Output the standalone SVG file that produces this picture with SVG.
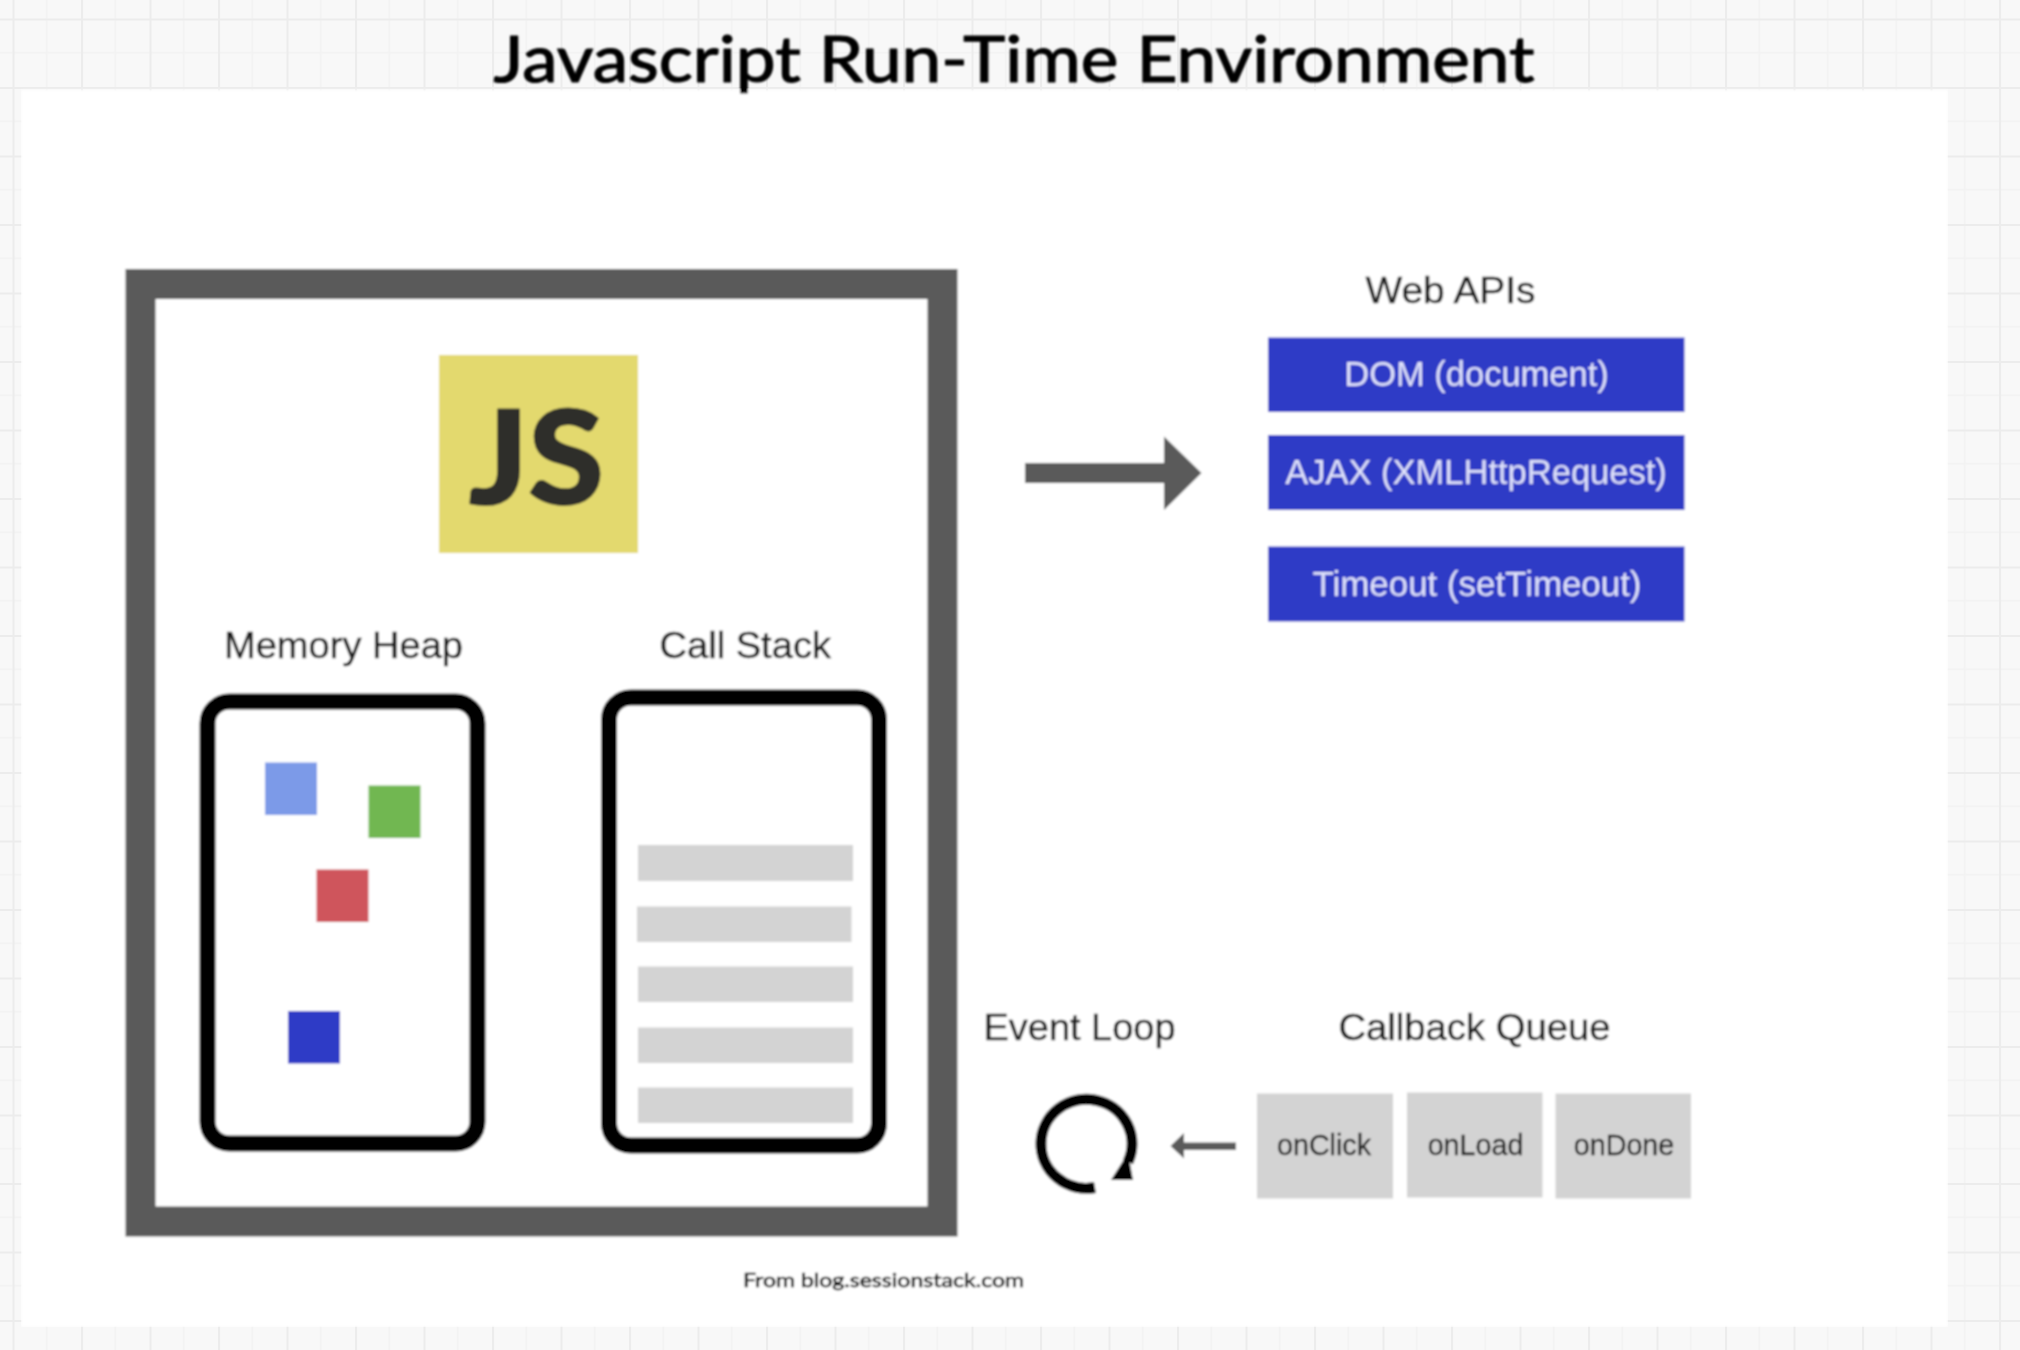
<svg xmlns="http://www.w3.org/2000/svg" width="2020" height="1350" viewBox="0 0 2020 1350">
<style>
.lbl{font-family:"Liberation Sans",Arial,sans-serif;fill:#1a1a1a;stroke:#1a1a1a;stroke-width:.4px;font-size:37px}
.api{fill:#2f3bc6}
.apit{font-family:"Liberation Sans",Arial,sans-serif;fill:#dfe2fb;font-size:34.5px;text-anchor:middle}
.box{fill:#fff;stroke:#000;stroke-width:16}
.bar{fill:#d3d3d3}
.q{fill:#d3d3d3}
.qt{font-family:"Liberation Sans",Arial,sans-serif;fill:#1a1a1a;stroke:#1a1a1a;stroke-width:.3px;font-size:28.7px;text-anchor:middle}
.rd{font-family:"Lato","Noto Sans",sans-serif;stroke-linejoin:round;stroke-linecap:round}
.cn{fill:#5a5a5a}
</style>
<defs>
<pattern id="grid" x="12.5" y="18.5" width="68.5" height="68.5" patternUnits="userSpaceOnUse">
<rect width="68.5" height="68.5" fill="#f8f8f8"/>
<path d="M34.25 0V68.5M0 34.25H68.5" stroke="#f2f2f2" stroke-width="1.5" fill="none"/>
<path d="M0.75 0V68.5M0 0.75H68.5" stroke="#ececec" stroke-width="2.5" fill="none"/>
</pattern>
<filter id="soft" x="0" y="0" width="100%" height="100%"><feGaussianBlur stdDeviation="0.8"/></filter>
</defs>
<rect width="2020" height="1350" fill="url(#grid)"/>
<g filter="url(#soft)">
<rect id="panel" x="21" y="90" width="1927" height="1237" fill="#fff"/>
<g id="title"><text class="rd" x="493.500" y="82" font-size="64" font-weight="400" fill="#000" stroke="#000" stroke-width="1.200" textLength="1041" lengthAdjust="spacingAndGlyphs">Javascript Run-Time Environment</text></g>
<g id="runtime"><rect x="140.500" y="284" width="802" height="937.500" fill="#fff" stroke="#5a5a5a" stroke-width="30"/></g>
<g id="js-logo"><rect x="439" y="355" width="199" height="198" fill="#e3d96e"/>
<text x="469" y="504" font-family="Lato,'Noto Sans',sans-serif" font-weight="900" font-size="130" fill="#2e2e2a" stroke="#2e2e2a" stroke-width="2" stroke-linejoin="round" textLength="135" lengthAdjust="spacingAndGlyphs">JS</text></g>
<g id="memory-heap"><text class="lbl" x="224" y="657.500" textLength="239" lengthAdjust="spacingAndGlyphs">Memory Heap</text>
<rect class="box" x="207.500" y="701.500" width="270" height="442" rx="22"/>
<rect x="265" y="762.500" width="52" height="52.500" fill="#7b9ae8"/>
<rect x="368.500" y="785.500" width="52" height="52.500" fill="#71b751"/>
<rect x="316.500" y="869.500" width="52" height="52.500" fill="#cf555c"/>
<rect x="288" y="1011" width="52" height="52.500" fill="#2f3bc6"/></g>
<g id="call-stack"><text class="lbl" x="659.500" y="657.500" textLength="171.500" lengthAdjust="spacingAndGlyphs">Call Stack</text>
<rect class="box" x="609" y="697.500" width="270" height="448" rx="22"/>
<rect class="bar" x="638" y="845" width="215" height="36"/>
<rect class="bar" x="637" y="906.500" width="214.500" height="35.500"/>
<rect class="bar" x="638" y="966.500" width="215" height="35.500"/>
<rect class="bar" x="638" y="1027.500" width="215" height="35.500"/>
<rect class="bar" x="638" y="1087.500" width="215" height="35.500"/></g>
<g id="web-apis"><text class="lbl" x="1365.500" y="303" textLength="170" lengthAdjust="spacingAndGlyphs">Web APIs</text></g>
<g id="api-dom"><rect class="api" x="1268" y="337.500" width="416.500" height="74.500"/><text class="apit" x="1476.500" y="386">DOM (document)</text></g>
<g id="api-ajax"><rect class="api" x="1268" y="435" width="416.500" height="75"/><text class="apit" x="1476" y="484">AJAX (XMLHttpRequest)</text></g>
<g id="api-timeout"><rect class="api" x="1268" y="546.500" width="416.500" height="75"/><text class="apit" x="1477" y="596" textLength="329" lengthAdjust="spacingAndGlyphs">Timeout (setTimeout)</text></g>
<g id="event-loop"><text class="lbl" x="983.500" y="1040" textLength="192" lengthAdjust="spacingAndGlyphs">Event Loop</text>
<path d="M1095 1187.500A45.500 44.500 0 1 1 1128 1162" fill="none" stroke="#000" stroke-width="11"/>
<polygon points="1128,1153 1133,1180 1111,1180" fill="#000"/></g>
<g id="callback-queue"><text class="lbl" x="1338.500" y="1040" textLength="272" lengthAdjust="spacingAndGlyphs">Callback Queue</text></g>
<g id="q-onclick"><rect class="q" x="1257" y="1093.500" width="136" height="105"/><text class="qt" x="1324" y="1155">onClick</text></g>
<g id="q-onload"><rect class="q" x="1407" y="1092.500" width="135.500" height="105"/><text class="qt" x="1475.500" y="1155">onLoad</text></g>
<g id="q-ondone"><rect class="q" x="1555.500" y="1093.500" width="135.500" height="105"/><text class="qt" x="1624" y="1155">onDone</text></g>
<g id="credit"><text class="rd" x="743" y="1287" font-size="20" font-weight="400" fill="#000" stroke="#000" stroke-width="0.600" textLength="281" lengthAdjust="spacingAndGlyphs">From blog.sessionstack.com</text></g>
<g id="connectors">
<polygon class="cn" points="1025,463 1164,463 1164,436.500 1201.500,473 1164,510 1164,483 1025,483"/>
<polygon class="cn" points="1236,1142.500 1184,1142.500 1184,1133 1170.500,1146 1184,1158.500 1184,1150 1236,1150"/>
</g>
</g>
</svg>
